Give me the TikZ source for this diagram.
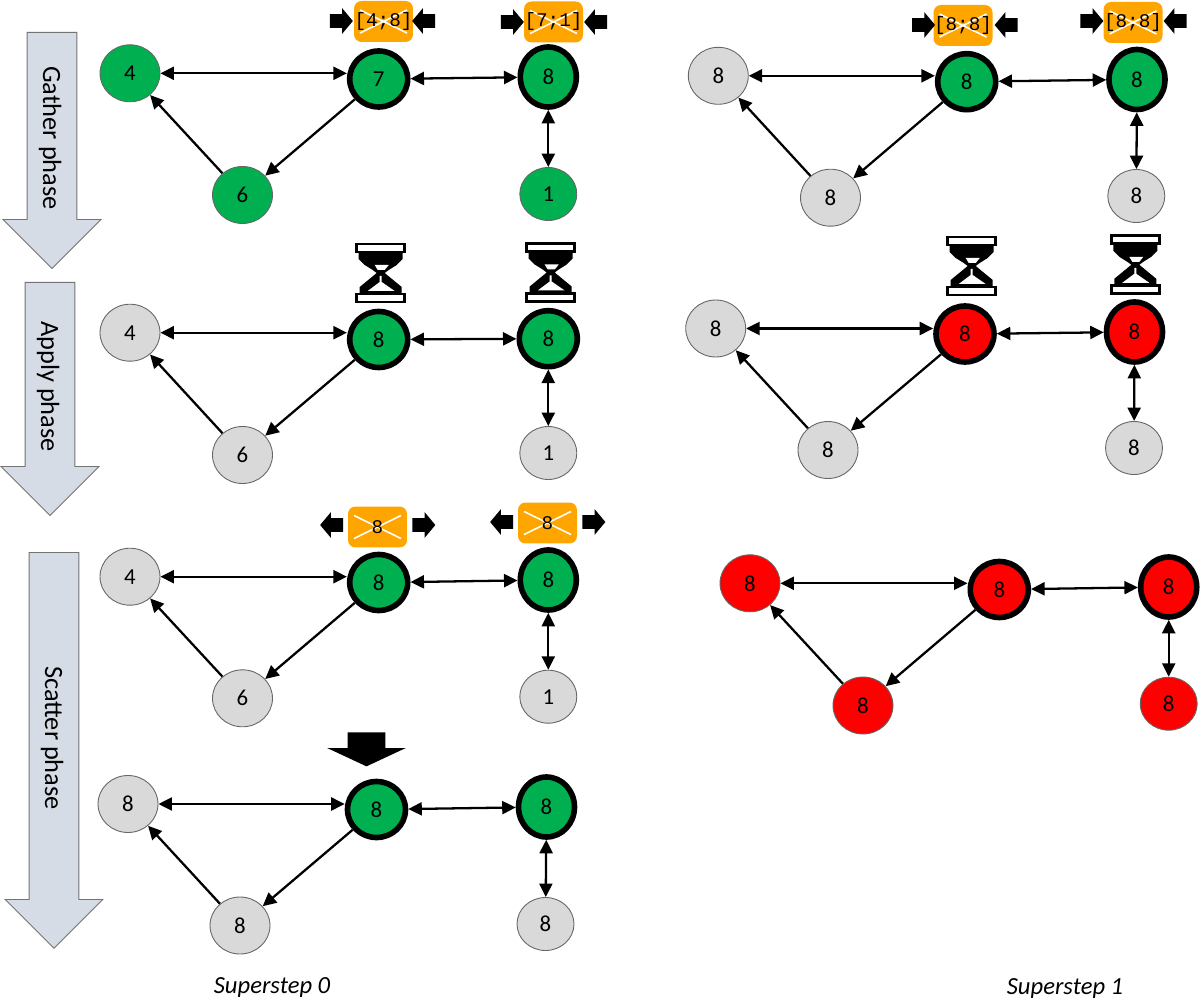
\documentclass[tikz,border=0pt]{standalone}
\usepackage{fontspec}
\setmainfont{Carlito}
\newfontfamily\msgfont{Liberation Mono}
\usetikzlibrary{arrows.meta,shapes.arrows,shapes.geometric}
\definecolor{vgreen}{HTML}{00B050}
\definecolor{vgrey}{HTML}{D9D9D9}
\definecolor{vorange}{HTML}{FFA500}
\definecolor{phasefill}{HTML}{D6DCE5}
\tikzset{
    vertex/.style={ellipse, inner sep=0pt, minimum width=1.2cm, minimum height=1.14cm, draw=black!60, line width=0.5pt, font=\fontsize{13}{13}\selectfont},
    small/.style={minimum width=1.14cm, minimum height=1.06cm},
    green node/.style={vertex, fill=vgreen},
    grey node/.style={vertex, fill=vgrey},
    red node/.style={vertex, fill=red},
    active/.style={draw=black, line width=3.2pt, minimum width=1.16cm, minimum height=1.12cm},
    tall/.style={draw=black, line width=3.2pt, minimum width=1.12cm, minimum height=1.2cm},
    link/.style={line width=1.3pt, >={Triangle[length=2.7mm, width=2.6mm]}},
    envelope/.style={rectangle, rounded corners=1.5mm, fill=vorange, minimum width=1.18cm, minimum height=0.82cm, inner sep=0pt,
        font=\msgfont\fontsize{11}{11}\selectfont,
        path picture={
            \draw[white, line width=0.9pt]
              ([xshift=1.2mm, yshift=-1.8mm]path picture bounding box.north west) -- ([xshift=-1.2mm, yshift=1.8mm]path picture bounding box.south east)
              ([xshift=-1.2mm, yshift=-1.8mm]path picture bounding box.north east) -- ([xshift=1.2mm, yshift=1.8mm]path picture bounding box.south west);
        }},
    msg arrow/.style={single arrow, fill=black, inner ysep=0.13cm, inner xsep=0pt, minimum height=0.46cm, single arrow head extend=0.12cm, single arrow head indent=0pt, single arrow tip angle=100},
    phase/.style={single arrow, rotate=-90, anchor=tail, fill=phasefill, draw=black!55, line width=0.5pt, text height=10pt, text depth=0pt, inner ysep=8.9pt, inner xsep=0pt,
        single arrow head extend=0.48cm, single arrow head indent=0pt, font=\fontsize{15}{15}\selectfont},
    step label/.style={font=\itshape\fontsize{14}{14}\selectfont},
    hourglass/.pic={
        \fill[black] (-22,-22) -- (22,-22) -- (22,-14) -- (16,-8) -- (8,-3) -- (4,0) -- (21,14) -- (21,22) -- (-21,22) -- (-21,14) -- (-4,0) -- (-8,-3) -- (-16,-8) -- (-22,-14) -- cycle;
        \fill[white] (-6,-8) -- (8,-8) -- (4,-3) -- (-3,-3) -- cycle;
        \fill[white] (-1,3) -- (1,3) -- (1,9) -- (14,18) -- (-13,18) -- (-1,9) -- cycle;
        \draw[black, fill=white, line width=1.6pt] (-24,-29) rectangle (24,-21);
        \draw[black, fill=white, line width=1.6pt] (-24,21) rectangle (24,29);
    }
}
\begin{document}
\begin{tikzpicture}[x=0.02cm, y=-0.02cm]
    \useasboundingbox (0,0) rectangle (1200,1003);

    % phases
    \node[phase, minimum height=4.72cm] (gather) at (52,32) {Gather phase};
    \node[phase, minimum height=4.66cm] (apply) at (50,282) {Apply phase};
    \node[phase, minimum height=7.92cm] (scatter) at (54,552) {Scatter phase};

    % superstep 0, gather
    \node[green node] (a1) at (130,73.3) {4};
    \node[green node, active] (b1) at (378.7,79) {7};
    \node[green node, tall] (c1) at (548.3,77) {8};
    \node[green node] (d1) at (242.5,195) {6};
    \node[green node, small] (e1) at (548.3,194) {1};

    % superstep 0, apply
    \node[grey node] (a2) at (130,332.7) {4};
    \node[green node, active] (b2) at (378.7,339.5) {8};
    \node[green node, active] (c2) at (548.3,338.7) {8};
    \node[grey node] (d2) at (242.5,455) {6};
    \node[grey node, small] (e2) at (548.3,453) {1};

    % superstep 0, scatter
    \node[grey node] (a3) at (130,576.7) {4};
    \node[green node, active] (b3) at (378.7,582.5) {8};
    \node[green node, tall] (c3) at (548.3,580) {8};
    \node[grey node] (d3) at (242.5,698.3) {6};
    \node[grey node, small] (e3) at (548.3,696.7) {1};

    \node[grey node] (a4) at (128,804) {8};
    \node[green node, active] (b4) at (376.5,809.5) {8};
    \node[green node, tall] (c4) at (546.5,807) {8};
    \node[grey node] (d4) at (240,925.5) {8};
    \node[grey node, small] (e4) at (545.5,924) {8};

    % superstep 1
    \node[grey node] (a5) at (718.3,75.8) {8};
    \node[green node, active] (b5) at (966.7,81.7) {8};
    \node[green node, tall] (c5) at (1137,79.5) {8};
    \node[grey node] (d5) at (830.5,197.7) {8};
    \node[grey node, small] (e5) at (1136.3,196) {8};

    \node[grey node] (a6) at (715.7,328.5) {8};
    \node[red node, active] (b6) at (965,334) {8};
    \node[red node, tall] (c6) at (1134.5,332) {8};
    \node[grey node] (d6) at (828,450) {8};
    \node[grey node, small] (e6) at (1134,448) {8};

    \node[red node] (a7) at (750,583.3) {8};
    \node[red node, active] (b7) at (999.3,589.5) {8};
    \node[red node, tall] (c7) at (1168.7,587) {8};
    \node[red node] (d7) at (863,705.5) {8};
    \node[red node, small] (e7) at (1168.7,703.7) {8};

    \foreach \g in {1,...,7} {
        \path[link]
        (a\g) edge[<->] (a\g -| b\g.west)
        (b\g) edge[<->] (c\g)
              edge[->] (d\g)
        (c\g) edge[<->] (e\g)
        (d\g) edge[->] (a\g);
    }

    % messages
    \node[envelope] (m1) at (383.5,21.5) {[4;8]};
    \node[msg arrow] (m1l) at (338.5,21) {};
    \node[msg arrow, rotate=180] (m1r) at (426.5,21) {};
    \node[envelope] (m2) at (553.5,22) {[7;1]};
    \node[msg arrow] (m2l) at (509.5,22) {};
    \node[msg arrow, rotate=180] (m2r) at (598.5,22) {};

    \node[envelope] (m3) at (377.5,527) {8};
    \node[msg arrow, rotate=180] (m3l) at (334.5,525) {};
    \node[msg arrow] (m3r) at (421,525) {};
    \node[envelope] (m4) at (547.5,523) {8};
    \node[msg arrow, rotate=180] (m4l) at (504.5,522) {};
    \node[msg arrow] (m4r) at (591,522) {};

    \node[envelope] (m5) at (963,25.5) {[8;8]};
    \node[msg arrow] (m5l) at (920.7,25) {};
    \node[msg arrow, rotate=180] (m5r) at (1009,25) {};
    \node[envelope] (m6) at (1133,22.5) {[8;8]};
    \node[msg arrow] (m6l) at (1089,21) {};
    \node[msg arrow, rotate=180] (m6r) at (1178,21) {};

    % waiting
    \pic at (380.7,273) {hourglass};
    \pic at (550.7,272.5) {hourglass};
    \pic at (971.7,266) {hourglass};
    \pic at (1135.3,264.8) {hourglass};

    \node[single arrow, rotate=-90, anchor=tail, fill=black, inner ysep=0.37cm, inner xsep=0pt, minimum height=0.68cm, single arrow head extend=0.41cm, single arrow head indent=0pt, single arrow tip angle=130] (pull) at (366.5,732) {};

    \node[step label] (s0) at (272,987) {Superstep 0};
    \node[step label] (s1) at (1065,989) {Superstep 1};
\end{tikzpicture}
\end{document}
